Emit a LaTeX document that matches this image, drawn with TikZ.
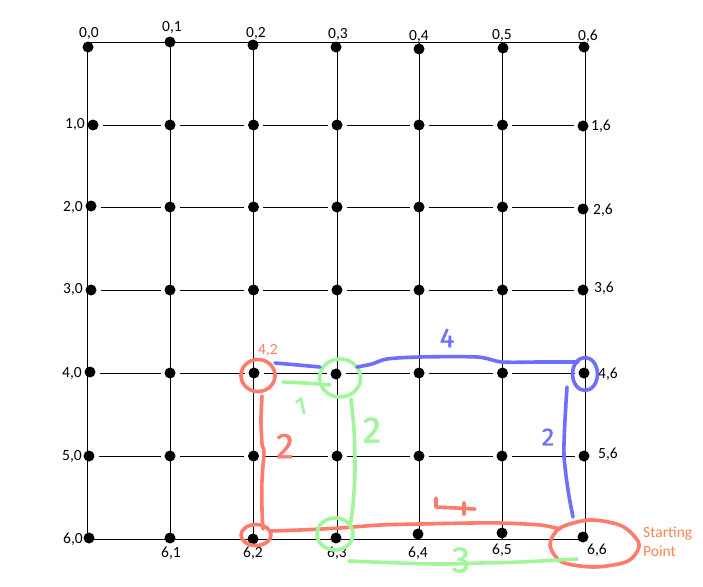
\documentclass[tikz,border=0pt]{standalone}
\usepackage{fontspec}
\setmainfont{Carlito}
\newfontfamily\handfont[FakeBold=1.2]{Fira Sans}
\definecolor{penred}{HTML}{FF7B6B}
\definecolor{pengreen}{HTML}{A3F59C}
\definecolor{penblue}{HTML}{6E6EFF}
\definecolor{startorange}{HTML}{F7874F}
\begin{document}
\begin{tikzpicture}[x=1pt,y=-1pt,
  dot/.style={circle,fill=black,inner sep=0pt,minimum size=11pt,outer sep=4pt},
  gridline/.style={line width=0.95pt,black},
  lbl/.style={font=\fontsize{15.5}{17}\selectfont,inner sep=0pt},
  pen/.style={line width=3.6pt,line cap=round,line join=round},
  hand/.style={font=\handfont\fontsize{#1}{#1}\selectfont,inner sep=0pt}]
\useasboundingbox[fill=white] (0,0) rectangle (703,586);
% grid verticals and outer rows
\foreach \c/\x in {0/87.5,1/170,2/253.5,3/337,4/419,5/502.5,6/585}{
  \coordinate (t\c) at (\x,42);
  \coordinate (b\c) at (\x,539);
  \draw[gridline] (t\c) -- (b\c);
}
\draw[gridline] (t0) -- (t6);
\draw[gridline] (b0) -- (b6);
\foreach \r/\y in {1/125,2/207,3/290,4/373,5/456}
  \coordinate (h\r) at (0,\y);
% dots
\foreach \c/\x/\y in {0/88/47,1/170/42,2/253/45,3/336/47,4/419/49,5/503/48,6/584/47}
  \node[dot] (d0\c) at (\x,\y) {};
\foreach \c/\x/\y in {0/93/125,1/170/125,2/253.5/125,3/337/125,4/419/125,5/502.5/125,6/583/126}
  \node[dot] (d1\c) at (\x,\y) {};
\foreach \c/\x/\y in {0/91/206,1/170/207,2/253.5/207,3/337/207,4/419/207,5/502.5/207,6/583/209}
  \node[dot] (d2\c) at (\x,\y) {};
\foreach \c/\x/\y in {0/91/290,1/170/290,2/253.5/290,3/337/290,4/419/290,5/502.5/290,6/583/290}
  \node[dot] (d3\c) at (\x,\y) {};
\foreach \c/\x/\y in {0/90/372,1/170/373,2/254/373,3/336/374,4/419/373,5/502.5/373,6/584/373}
  \node[dot] (d4\c) at (\x,\y) {};
\foreach \c/\x/\y in {0/89/456,1/170/456,2/253.5/456,3/337/456,4/419/456,5/502/456,6/584/456}
  \node[dot] (d5\c) at (\x,\y) {};
\foreach \c/\x/\y in {0/89/538,1/170/538,2/253/539,3/336/538,4/418/534,5/502/533,6/583/537}
  \node[dot] (d6\c) at (\x,\y) {};
% inner horizontal rows
\foreach \r in {1,...,5}{
  \foreach \c [evaluate=\c as \n using int(\c+1)] in {0,...,5}{
    \draw[gridline] (d\r\c.east |- h\r) -- (d\r\n.west |- h\r);
  }
}
% labels
\foreach \n/\t/\x/\y in {l00/{0,0}/89/33, l01/{0,1}/172/27, l02/{0,2}/256/33, l03/{0,3}/338/34,
  l04/{0,4}/419/36, l05/{0,5}/502/35, l06/{0,6}/588/36,
  l10/{1,0}/75/124, l16/{1,6}/601/126, l20/{2,0}/73/207, l26/{2,6}/603/210,
  l30/{3,0}/73/289, l36/{3,6}/604/288, l40/{4,0}/72/373, l46/{4,6}/608/374,
  l50/{5,0}/72/456, l56/{5,6}/608/454, l60/{6,0}/73/539,
  l61/{6,1}/171/553, l62/{6,2}/253/553, l63/{6,3}/337/553, l64/{6,4}/418/553,
  l65/{6,5}/502/550, l66/{6,6}/597/550}
  \node[lbl] (\n) at (\x,\y) {\t};
\node[lbl,text=penred] (l42) at (268,350) {4,2};
\node[lbl,text=startorange,anchor=west] (start1) at (643,533) {Starting};
\node[lbl,text=startorange,anchor=west] (start2) at (643,551) {Point};
% red path
\draw[pen,penred] (258,375.5) ellipse [x radius=17, y radius=16];
\draw[pen,penred] plot[smooth] coordinates {(262,396)(261,420)(262,444)(264,452)(262,480)(262,510)(263,529)};
\draw[pen,penred] (256,535) ellipse [x radius=15, y radius=10.5];
\draw[pen,penred] plot[smooth] coordinates {(271,531)(300,530)(340,528)(380,525)(420,524)(470,523)(502,523)(540,525)(560,529)};
\draw[pen,penred] plot[smooth cycle] coordinates {(560,528)(590,520)(622,526)(639,544)(628,561)(595,567)(562,562)(550,545)};
\draw[pen,penred] (436,498) -- (436,507) -- (475,509);
\draw[pen,penred] (464,503) -- (464,514);
\node[hand=36,text=penred] (r2) at (285,446) {2};
% green path
\draw[pen,pengreen] (340,378) ellipse [x radius=20.5, y radius=19];
\draw[pen,pengreen] plot[smooth] coordinates {(283,382)(305,383)(330,385)};
\node[hand=25,text=pengreen,rotate=12] (g1) at (301,406) {1};
\draw[pen,pengreen] plot[smooth] coordinates {(351,399)(354,430)(355,470)(353,505)(350,527)};
\node[hand=37,text=pengreen] (g2) at (372,430) {2};
\draw[pen,pengreen] (335,534) ellipse [x radius=18, y radius=16];
\draw[pen,pengreen] plot[smooth] coordinates {(349,561)(400,563)(440,564)(480,563)(520,562)(577,559)};
\node[hand=37,text=pengreen] (g3) at (461,560) {3};
% blue path
\draw[pen,penblue] plot[smooth] coordinates {(275,363)(298,365)(320,367)};
\draw[pen,penblue] plot[smooth] coordinates {(357,367)(372,364)(387,359)(420,357)(477,357)(502,362)(540,362)(578,362)};
\draw[pen,penblue] (585,374) ellipse [x radius=12.5, y radius=16.5];
\draw[pen,penblue] plot[smooth] coordinates {(567,387)(565,420)(564,455)(568,490)(573,517)};
\node[hand=27,text=penblue] (b4) at (447,338) {4};
\node[hand=25,text=penblue] (b2) at (548,437) {2};
\end{tikzpicture}
\end{document}
